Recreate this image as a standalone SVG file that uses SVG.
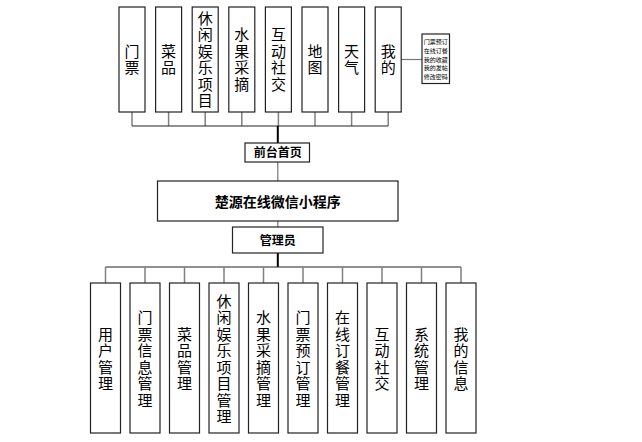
<svg xmlns="http://www.w3.org/2000/svg" width="642" height="442" viewBox="0 0 642 442">
<style>
.box{fill:#fff;stroke:#222;stroke-width:1.2}
.t{font-family:"Noto Sans CJK SC","Liberation Sans",sans-serif;font-size:15px;fill:#000;text-anchor:middle}
.b{font-family:"Noto Sans CJK SC","Liberation Sans",sans-serif;font-weight:bold;fill:#000;text-anchor:middle}
.s{font-family:"Noto Sans CJK SC","Liberation Sans",sans-serif;font-size:6px;fill:#000;text-anchor:middle}
.ln{fill:none;stroke:#222;stroke-width:1}
.tk{fill:none;stroke:#808080;stroke-width:1.5}
.th{fill:none;stroke:#000;stroke-width:2}
.gl{fill:none;stroke:#777;stroke-width:1.2}
</style>
<rect width="642" height="442" fill="#fff"/>
<g id="connectors">
<path class="tk" d="M132,112V126M168.6,112V126M205.2,112V126M241.8,112V126M278.4,112V126M315,112V126M351.6,112V126M388.2,112V126"/>
<path class="ln" d="M132,126H388.2"/>
<path class="th" d="M277.8,126V143"/>
<path class="gl" d="M277.8,162V181M277.8,221V227"/>
<path class="gl" d="M401,59.5H422"/>
<path class="th" d="M277.8,253V267"/>
<path class="ln" d="M105.5,267H461"/>
<path class="tk" d="M105.5,267V283M145,267V283M184.5,267V283M224,267V283M263.5,267V283M303,267V283M342.5,267V283M382,267V283M421.5,267V283M461,267V283"/>
</g>
<g id="top1"><rect class="box" x="119" y="7" width="26" height="105"/><text class="t" x="132" y="56.75"><tspan x="132">门</tspan><tspan x="132" dy="16.5">票</tspan></text></g>
<g id="top2"><rect class="box" x="155.6" y="7" width="26" height="105"/><text class="t" x="168.6" y="56.75"><tspan x="168.6">菜</tspan><tspan x="168.6" dy="16.5">品</tspan></text></g>
<g id="top3"><rect class="box" x="192.2" y="7" width="26" height="105"/><text class="t" x="205.2" y="23.75"><tspan x="205.2">休</tspan><tspan x="205.2" dy="16.5">闲</tspan><tspan x="205.2" dy="16.5">娱</tspan><tspan x="205.2" dy="16.5">乐</tspan><tspan x="205.2" dy="16.5">项</tspan><tspan x="205.2" dy="16.5">目</tspan></text></g>
<g id="top4"><rect class="box" x="228.8" y="7" width="26" height="105"/><text class="t" x="241.8" y="40.25"><tspan x="241.8">水</tspan><tspan x="241.8" dy="16.5">果</tspan><tspan x="241.8" dy="16.5">采</tspan><tspan x="241.8" dy="16.5">摘</tspan></text></g>
<g id="top5"><rect class="box" x="265.4" y="7" width="26" height="105"/><text class="t" x="278.4" y="40.25"><tspan x="278.4">互</tspan><tspan x="278.4" dy="16.5">动</tspan><tspan x="278.4" dy="16.5">社</tspan><tspan x="278.4" dy="16.5">交</tspan></text></g>
<g id="top6"><rect class="box" x="302" y="7" width="26" height="105"/><text class="t" x="315" y="56.75"><tspan x="315">地</tspan><tspan x="315" dy="16.5">图</tspan></text></g>
<g id="top7"><rect class="box" x="338.6" y="7" width="26" height="105"/><text class="t" x="351.6" y="56.75"><tspan x="351.6">天</tspan><tspan x="351.6" dy="16.5">气</tspan></text></g>
<g id="top8"><rect class="box" x="375.2" y="7" width="26" height="105"/><text class="t" x="388.2" y="56.75"><tspan x="388.2">我</tspan><tspan x="388.2" dy="16.5">的</tspan></text></g>
<g id="mine-detail"><rect class="box" x="422" y="34" width="27.5" height="49.5" stroke-width="1"/><text class="s" x="435.7" y="43.7"><tspan x="435.7">门票预订</tspan><tspan x="435.7" dy="8.9">在线订餐</tspan><tspan x="435.7" dy="8.9">我的收藏</tspan><tspan x="435.7" dy="8.9">我的发帖</tspan><tspan x="435.7" dy="8.9">修改密码</tspan></text></g>
<g id="frontpage"><rect class="box" x="245" y="143" width="64.5" height="19"/><text class="b" x="277.8" y="157" font-size="12">前台首页</text></g>
<g id="app"><rect class="box" x="157.5" y="181" width="240.5" height="40"/><text class="b" x="277.8" y="206.5" font-size="14">楚源在线微信小程序</text></g>
<g id="admin"><rect class="box" x="232.5" y="227" width="90.5" height="26"/><text class="b" x="277.8" y="244.5" font-size="12">管理员</text></g>
<g id="m1"><rect class="box" x="90.5" y="283" width="30" height="150"/><text class="t" x="105.5" y="339.75"><tspan x="105.5">用</tspan><tspan x="105.5" dy="16.5">户</tspan><tspan x="105.5" dy="16.5">管</tspan><tspan x="105.5" dy="16.5">理</tspan></text></g>
<g id="m2"><rect class="box" x="130" y="283" width="30" height="150"/><text class="t" x="145" y="323.25"><tspan x="145">门</tspan><tspan x="145" dy="16.5">票</tspan><tspan x="145" dy="16.5">信</tspan><tspan x="145" dy="16.5">息</tspan><tspan x="145" dy="16.5">管</tspan><tspan x="145" dy="16.5">理</tspan></text></g>
<g id="m3"><rect class="box" x="169.5" y="283" width="30" height="150"/><text class="t" x="184.5" y="339.75"><tspan x="184.5">菜</tspan><tspan x="184.5" dy="16.5">品</tspan><tspan x="184.5" dy="16.5">管</tspan><tspan x="184.5" dy="16.5">理</tspan></text></g>
<g id="m4"><rect class="box" x="209" y="283" width="30" height="150"/><text class="t" x="224" y="306.75"><tspan x="224">休</tspan><tspan x="224" dy="16.5">闲</tspan><tspan x="224" dy="16.5">娱</tspan><tspan x="224" dy="16.5">乐</tspan><tspan x="224" dy="16.5">项</tspan><tspan x="224" dy="16.5">目</tspan><tspan x="224" dy="16.5">管</tspan><tspan x="224" dy="16.5">理</tspan></text></g>
<g id="m5"><rect class="box" x="248.5" y="283" width="30" height="150"/><text class="t" x="263.5" y="323.25"><tspan x="263.5">水</tspan><tspan x="263.5" dy="16.5">果</tspan><tspan x="263.5" dy="16.5">采</tspan><tspan x="263.5" dy="16.5">摘</tspan><tspan x="263.5" dy="16.5">管</tspan><tspan x="263.5" dy="16.5">理</tspan></text></g>
<g id="m6"><rect class="box" x="288" y="283" width="30" height="150"/><text class="t" x="303" y="323.25"><tspan x="303">门</tspan><tspan x="303" dy="16.5">票</tspan><tspan x="303" dy="16.5">预</tspan><tspan x="303" dy="16.5">订</tspan><tspan x="303" dy="16.5">管</tspan><tspan x="303" dy="16.5">理</tspan></text></g>
<g id="m7"><rect class="box" x="327.5" y="283" width="30" height="150"/><text class="t" x="342.5" y="323.25"><tspan x="342.5">在</tspan><tspan x="342.5" dy="16.5">线</tspan><tspan x="342.5" dy="16.5">订</tspan><tspan x="342.5" dy="16.5">餐</tspan><tspan x="342.5" dy="16.5">管</tspan><tspan x="342.5" dy="16.5">理</tspan></text></g>
<g id="m8"><rect class="box" x="367" y="283" width="30" height="150"/><text class="t" x="382" y="339.75"><tspan x="382">互</tspan><tspan x="382" dy="16.5">动</tspan><tspan x="382" dy="16.5">社</tspan><tspan x="382" dy="16.5">交</tspan></text></g>
<g id="m9"><rect class="box" x="406.5" y="283" width="30" height="150"/><text class="t" x="421.5" y="339.75"><tspan x="421.5">系</tspan><tspan x="421.5" dy="16.5">统</tspan><tspan x="421.5" dy="16.5">管</tspan><tspan x="421.5" dy="16.5">理</tspan></text></g>
<g id="m10"><rect class="box" x="446" y="283" width="30" height="150"/><text class="t" x="461" y="339.75"><tspan x="461">我</tspan><tspan x="461" dy="16.5">的</tspan><tspan x="461" dy="16.5">信</tspan><tspan x="461" dy="16.5">息</tspan></text></g>
</svg>
